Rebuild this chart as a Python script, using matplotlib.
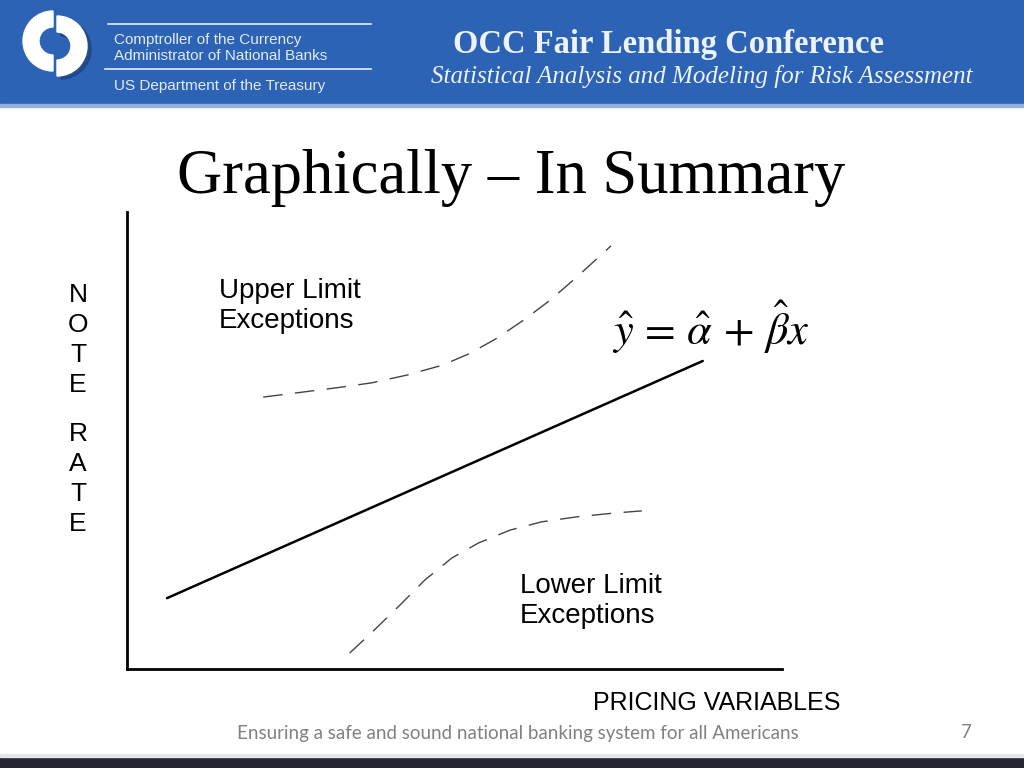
import matplotlib
matplotlib.use("Agg")
import matplotlib.pyplot as plt
from matplotlib.patches import Rectangle, Wedge

plt.rcParams['mathtext.fontset'] = 'stix'

# regression line (chart units, 0-100 on both axes)
fit_x = [6.1, 87.9]
fit_y = [15.5, 67.4]

# upper limit band (dashed)
upper_x = [20.8, 26.3, 31.8, 37.3, 42.7, 48.2, 52.4, 56.5, 60.6, 64.6, 68.7, 73.9]
upper_y = [59.5, 60.5, 61.5, 62.6, 64.3, 66.5, 69.1, 72.4, 76.4, 80.7, 85.8, 92.6]

# lower limit band (dashed)
lower_x = [34.0, 37.3, 41.4, 45.5, 49.6, 53.7, 58.5, 63.3, 68.7, 74.2, 78.6]
lower_y = [3.5, 7.9, 13.6, 19.5, 24.3, 27.6, 30.4, 32.2, 33.3, 34.1, 34.6]

W, H = 1024, 768


def fx(px):
    return px / W


def fy(py):
    return 1 - py / H


fig = plt.figure(figsize=(10.24, 7.68), dpi=100)
fig.patch.set_facecolor('white')

# background / decoration layer in pixel units
bg = fig.add_axes([0, 0, 1, 1])
bg.set_xlim(0, W)
bg.set_ylim(H, 0)
bg.axis('off')

bg.add_patch(Rectangle((0, 0), W, 105, color='#2c63b4', zorder=0))
bg.add_patch(Rectangle((0, 104), W, 3, color='#8fb2e2', zorder=0))
bg.add_patch(Rectangle((0, 757), W, 11, color='#24272f', zorder=0))
bg.add_patch(Rectangle((0, 754), W, 3, color='#e4e6ea', zorder=0))

# logo: two offset half rings with a soft shadow
bg.add_patch(Wedge((61, 49), 30, -90, 90, width=17, color='#1b3a70', alpha=0.55, zorder=1))
bg.add_patch(Wedge((53, 41), 30, 90, 270, width=16, color='white', zorder=2))
bg.add_patch(Wedge((57, 46), 30, -90, 90, width=16, color='white', zorder=2))

bg.plot([108, 371], [24, 24], color='#e6edf8', lw=1.2)
bg.plot([105, 371], [69, 69], color='#e6edf8', lw=1.2)

hdr = dict(family='Liberation Sans', color='#e3eaf7', fontsize=11, va='center', ha='left')
fig.text(fx(114), fy(40), 'Comptroller of the Currency', **hdr)
fig.text(fx(114), fy(56), 'Administrator of National Banks', **hdr)
fig.text(fx(114), fy(86), 'US Department of the Treasury', **hdr)

fig.text(fx(453), fy(45), 'OCC Fair Lending Conference', family='Liberation Serif',
         fontweight='bold', fontsize=23.5, color='#eef2fa', va='center', ha='left')
fig.text(fx(431), fy(77), 'Statistical Analysis and Modeling for Risk Assessment',
         family='Liberation Serif', style='italic', fontsize=18, color='#eef2fa',
         va='center', ha='left')

fig.text(fx(511), fy(178), 'Graphically \u2013 In Summary', family='Liberation Serif',
         fontsize=45, color='black', va='center', ha='center')

fig.text(fx(237), fy(733), 'Ensuring a safe and sound national banking system for all Americans',
         family='Lato', fontsize=13.5, color='#808080', va='center', ha='left')
fig.text(fx(966), fy(733), '7', family='Lato', fontsize=13.5, color='#808080',
         va='center', ha='center')

# y axis label, stacked letters
for i, ch in enumerate('NOTE'):
    fig.text(fx(78), fy(295 + i * 30), ch, family='Liberation Sans', fontsize=19,
             va='center', ha='center')
for i, ch in enumerate('RATE'):
    fig.text(fx(78), fy(434 + i * 30), ch, family='Liberation Sans', fontsize=19,
             va='center', ha='center')

fig.text(fx(717), fy(703), 'PRICING VARIABLES', family='Liberation Sans', fontsize=18,
         va='center', ha='center')

# chart axes
ax = fig.add_axes([fx(127), fy(669), (782 - 127) / W, (669 - 212) / H])
ax.set_xlim(0, 100)
ax.set_ylim(0, 100)
ax.patch.set_alpha(0)
for s in ['top', 'right']:
    ax.spines[s].set_visible(False)
ax.spines['left'].set_linewidth(2)
ax.spines['bottom'].set_linewidth(2)
ax.set_xticks([])
ax.set_yticks([])

ax.plot(fit_x, fit_y, color='black', lw=1.8, solid_capstyle='round')
ax.plot(upper_x, upper_y, color='#444444', lw=1, dashes=(14, 9))
ax.plot(lower_x, lower_y, color='#444444', lw=1, dashes=(14, 9))

ax.text(14, 79.5, 'Upper Limit\nExceptions', family='Liberation Sans', fontsize=20,
        va='center', ha='left', linespacing=1.2)
ax.text(60, 14.8, 'Lower Limit\nExceptions', family='Liberation Sans', fontsize=20,
        va='center', ha='left', linespacing=1.2)
ax.text(74.0, 74.8, r'$\hat{y}\,=\,\hat{\alpha}\,+\,\hat{\beta}x$', fontsize=32,
        va='center', ha='left')

fig.savefig('out.png', dpi=100, facecolor='white')
